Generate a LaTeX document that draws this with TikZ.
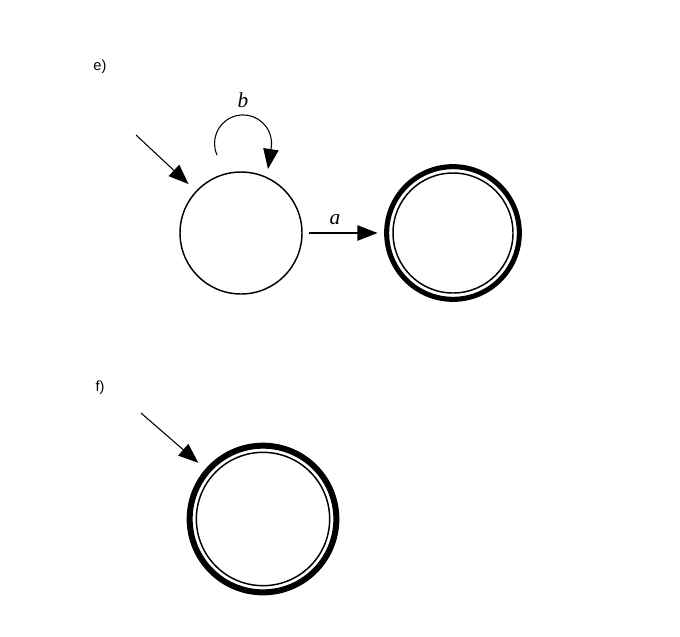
\documentclass[tikz,border=0pt]{standalone}
\usepackage{fontspec}
\setmainfont{Liberation Serif}
\newfontfamily\labfont{Liberation Sans}
\usetikzlibrary{arrows.meta}
\begin{document}
\begin{tikzpicture}[x=0.75pt,y=-0.75pt,
  state/.style={circle,draw,line width=1.1pt,minimum size=91.5pt,inner sep=0pt},
  accout/.style={circle,draw,line width=3.8pt,inner sep=0pt},
  accin/.style={circle,draw,line width=1.1pt,inner sep=0pt},
  tr/.style={line width=0.8pt,-{Triangle[length=15pt,width=11.5pt]}},
  sym/.style={font=\fontsize{16}{18}\selectfont\itshape},
  part/.style={font=\labfont\fontsize{11}{13}\selectfont}]
\useasboundingbox (0,0) rectangle (680,636);
% e)
\node[part] (le) at (100,67) {e)};
\node[state] (q0) at (241,233) {};
\node[accout,minimum size=99.5pt] (q1) at (453,233) {};
\node[accin,minimum size=90pt] (q1i) at (453,233) {};
\coordinate (s0) at (136,135);
\draw[tr,shorten >=7.5pt] (s0) -- (q0);
\coordinate (ls) at (217,155);
\coordinate (le2) at (268,169);
\draw[tr] (ls) arc[start angle=156,end angle=365,radius=28.5] -- (le2);
\node[sym] (lb) at (243,100) {b};
\draw[tr,shorten <=4.5pt,shorten >=5pt] (q0) -- (q1);
\node[sym] (la) at (335,220) {a};
% f)
\node[part] (lf) at (100,388) {f)};
\node[accout,line width=4.5pt,minimum size=110pt] (p0) at (263,519) {};
\node[accin,minimum size=100pt] (p0i) at (263,519) {};
\coordinate (s1) at (141,413);
\draw[tr,shorten >=7pt] (s1) -- (p0);
\end{tikzpicture}
\end{document}
